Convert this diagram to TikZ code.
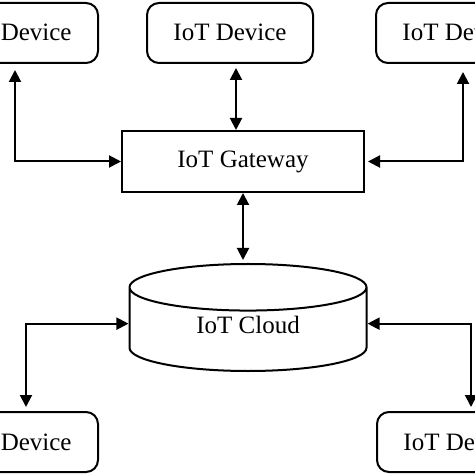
\documentclass[tikz,border=0pt]{standalone}
\usepackage{fontspec}
\setmainfont{Liberation Serif}
\usetikzlibrary{arrows.meta,calc,positioning,shapes.geometric}

\begin{document}
\begin{tikzpicture}[x=0.5pt,y=-0.5pt,>={Triangle[length=6pt,width=6pt]},line width=1pt,
    font=\fontsize{12.5pt}{15pt}\selectfont,
    device/.style={draw,rounded corners=6pt,minimum width=83pt,minimum height=30pt,inner sep=0pt},
    gatebox/.style={draw,minimum width=121pt,minimum height=30.5pt,inner sep=0pt},
    store/.style={draw,cylinder,shape border rotate=90,aspect=0.45,minimum width=118.5pt,minimum height=53.5pt,inner sep=0pt}]
    \useasboundingbox (0,0) rectangle (474,474);

    \node[device] (tl) at (15,33) {\raisebox{1pt}{IoT Device}};
    \node[device] (tm) at (230,33) {\raisebox{1pt}{IoT Device}};
    \node[device] (tr) at (459,33) {\raisebox{1pt}{IoT Device}};
    \node[gatebox] (gw) at (243,161.5) {IoT Gateway};
    \node[store,anchor=north] (cloud) at (248,263) {\raisebox{5pt}{IoT Cloud}};
    \node[device] (bl) at (15,442) {IoT Device};
    \node[device] (br) at (460,442) {IoT Device};

    \draw[<->,shorten <=3pt] (tl.south) |- (gw.west);
    \draw[<->,shorten <=2pt] ([xshift=3pt]tm.south) -- ([xshift=3pt]tm.south |- gw.north);
    \draw[<->,shorten <=4pt,shorten >=1.5pt] ([xshift=2pt]tr.south) |- (gw.east);
    \draw[<->,shorten >=1.5pt] (gw.south) -- (gw.south |- cloud.north);
    \draw[<->,shorten >=2pt] ([yshift=3pt]cloud.west) -| ([xshift=5.5pt]bl.north);
    \draw[<->,shorten >=2pt] ([yshift=3pt]cloud.east) -| ([xshift=5.5pt]br.north);
  \end{tikzpicture}
\end{document}
